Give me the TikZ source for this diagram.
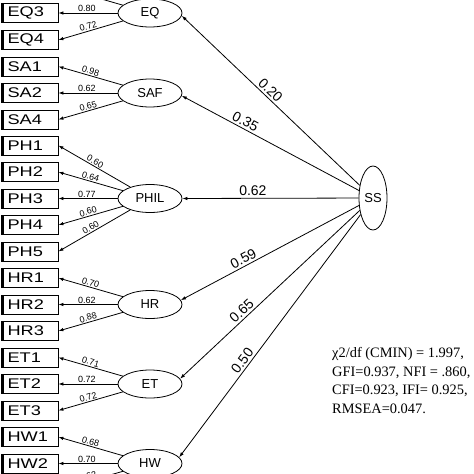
\documentclass[tikz,border=0pt]{standalone}
\usepackage{fontspec}
\setmainfont{Liberation Serif}
\newfontfamily\boxfont[FakeStretch=1.3]{Liberation Sans}
\newfontfamily\sansfam{Liberation Sans}
\usetikzlibrary{shapes.geometric,arrows.meta}
\begin{document}
\begin{tikzpicture}[x=1pt,y=-1pt,
  box/.style={draw, line width=0.8pt, rectangle, minimum width=57pt, minimum height=19pt,
    text width=44pt, inner xsep=6.5pt, inner ysep=0pt, align=left,
    font=\boxfont\fontsize{14}{14}\selectfont,
    path picture={\fill (path picture bounding box.south west) rectangle ([xshift=2.5pt]path picture bounding box.north west);}},
  latent/.style={draw, ellipse, line width=0.8pt, minimum width=64pt, minimum height=28pt,
    inner sep=0pt, font=\sansfam\fontsize{13}{13}\selectfont},
  arr/.style={line width=0.8pt, -{Latex[length=5pt,width=3.5pt]}},
  lab/.style={sloped, above, pos=0.52, inner sep=1pt, font=\sansfam\fontsize{9}{9}\selectfont},
  slab/.style={sloped, above, inner sep=2pt, font=\sansfam\fontsize{14}{14}\selectfont}]
\useasboundingbox (0,0) rectangle (474,474);
\clip (0,0) rectangle (474,474);

% observed indicators
\coordinate (EQ2) at (58,-13.5);
\node[box] (EQ3) at (29.5,13) {EQ3};
\node[box] (EQ4) at (29.5,40) {EQ4};
\node[box] (SA1) at (29.5,66.5) {SA1};
\node[box] (SA2) at (29.5,93) {SA2};
\node[box] (SA4) at (29.5,119.5) {SA4};
\node[box] (PH1) at (29.5,145.5) {PH1};
\node[box] (PH2) at (29.5,172) {PH2};
\node[box] (PH3) at (29.5,198.5) {PH3};
\node[box] (PH4) at (29.5,225) {PH4};
\node[box] (PH5) at (29.5,251.5) {PH5};
\node[box] (HR1) at (29.5,278) {HR1};
\node[box] (HR2) at (29.5,304.5) {HR2};
\node[box] (HR3) at (29.5,331) {HR3};
\node[box] (ET1) at (29.5,357.5) {ET1};
\node[box] (ET2) at (29.5,384) {ET2};
\node[box] (ET3) at (29.5,410.5) {ET3};
\node[box] (HW1) at (29.5,437) {HW1};
\node[box] (HW2) at (29.5,463.5) {HW2};
\coordinate (HW3) at (58,490);

% latent variables
\node[latent] (EQ) at (150,13) {EQ};
\node[latent] (SAF) at (150,93) {SAF};
\node[latent] (PHIL) at (150,198.5) {PHIL};
\node[latent] (HR) at (150,304.5) {HR};
\node[latent] (ET) at (150,384) {ET};
\node[latent] (HW) at (150,463.5) {HW};
\node[draw, ellipse, line width=0.8pt, minimum width=28pt, minimum height=64pt, inner sep=0pt,
  font=\sansfam\fontsize{13}{13}\selectfont] (SS) at (373,198) {SS};

% loadings
\draw[arr] (EQ) -- (EQ2);
\draw[arr] (EQ) -- node[lab]{0.80} (EQ3.east);
\draw[arr] (EQ) -- node[lab]{0.72} (EQ4.east);
\draw[arr] (SAF) -- node[lab]{0.98} (SA1.east);
\draw[arr] (SAF) -- node[lab]{0.62} (SA2.east);
\draw[arr] (SAF) -- node[lab]{0.65} (SA4.east);
\draw[arr] (PHIL) -- node[lab]{0.60} (PH1.east);
\draw[arr] (PHIL) -- node[lab]{0.64} (PH2.east);
\draw[arr] (PHIL) -- node[lab]{0.77} (PH3.east);
\draw[arr] (PHIL) -- node[lab]{0.60} (PH4.east);
\draw[arr] (PHIL) -- node[lab]{0.60} (PH5.east);
\draw[arr] (HR) -- node[lab]{0.70} (HR1.east);
\draw[arr] (HR) -- node[lab]{0.62} (HR2.east);
\draw[arr] (HR) -- node[lab]{0.88} (HR3.east);
\draw[arr] (ET) -- node[lab]{0.71} (ET1.east);
\draw[arr] (ET) -- node[lab]{0.72} (ET2.east);
\draw[arr] (ET) -- node[lab]{0.72} (ET3.east);
\draw[arr] (HW) -- node[lab]{0.68} (HW1.east);
\draw[arr] (HW) -- node[lab]{0.70} (HW2.east);
\draw[arr] (HW) -- node[lab]{0.62} (HW3);

% structural paths
\draw[arr] (SS) -- node[slab,pos=0.53]{0.20} (EQ.-5);
\draw[arr] (SS) -- node[slab,pos=0.66]{0.35} (SAF.-5);
\draw[arr] (SS) -- node[slab,pos=0.60]{0.62} (PHIL.east);
\draw[arr] (SS) -- node[slab,pos=0.63]{0.59} (HR.8);
\draw[arr] (SS) -- node[slab,pos=0.63]{0.65} (ET.10);
\draw[arr] (SS) -- node[slab,pos=0.62]{0.50} (HW.12);

% fit statistics
\node[anchor=north west, inner sep=0pt, align=left, font=\fontsize{14.4}{18.8}\selectfont] (fit) at (332,347)
  {χ2/df (CMIN) = 1.997,\\GFI=0.937, NFI = .860,\\CFI=0.923, IFI= 0.925,\\RMSEA=0.047.};
\end{tikzpicture}
\end{document}
